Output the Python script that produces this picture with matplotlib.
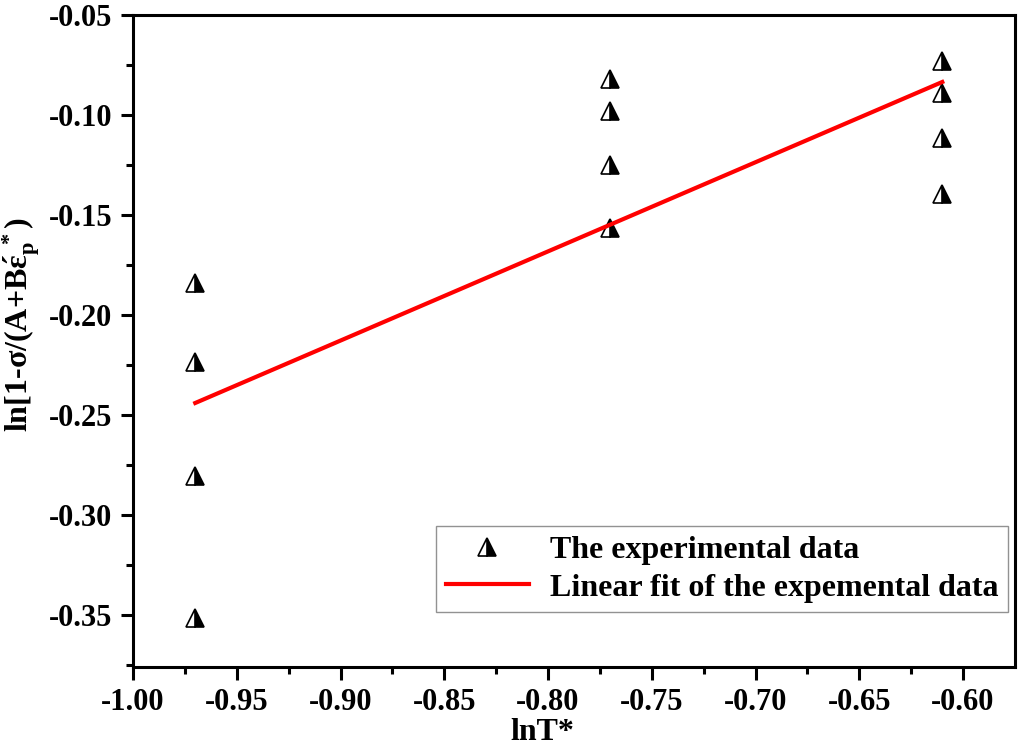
import numpy as np
import matplotlib
matplotlib.use('Agg')
import matplotlib.pyplot as plt

plt.rcParams['font.family'] = 'Liberation Serif'
plt.rcParams['font.weight'] = 'bold'
plt.rcParams['mathtext.fontset'] = 'custom'
plt.rcParams['mathtext.rm'] = 'Liberation Serif:bold'
plt.rcParams['mathtext.it'] = 'Liberation Serif:bold'
plt.rcParams['mathtext.bf'] = 'Liberation Serif:bold'

# experimental points (lnT*, ln[...])
lnT = [-0.97, -0.97, -0.97, -0.97,
       -0.77, -0.77, -0.77, -0.77,
       -0.61, -0.61, -0.61, -0.61]
lnS = [-0.184, -0.2235, -0.2805, -0.3515,
       -0.082, -0.098, -0.125, -0.1565,
       -0.073, -0.089, -0.1115, -0.1395]

# linear fit end points
fit_x = [-0.97, -0.61]
fit_y = [-0.244, -0.0835]

fig = plt.figure(figsize=(10.2, 7.49), dpi=100)
ax = fig.add_axes([0.1304, 0.1095, 0.995 - 0.1304, 0.98 - 0.1095])

ax.plot(lnT, lnS, linestyle='none', marker='^', markersize=13,
        fillstyle='right', markerfacecolor='black', markerfacecoloralt='white',
        markeredgecolor='black', markeredgewidth=1.2, label='The experimental data')
ax.plot(fit_x, fit_y, color='red', linewidth=3, label='Linear fit of the expemental data')

ax.set_xlim(-1.0, -0.575)
ax.set_ylim(-0.376, -0.05)
ax.set_xticks(np.arange(-1.0, -0.599, 0.05))
ax.set_xticks(np.arange(-0.975, -0.58, 0.05), minor=True)
ax.set_yticks(np.arange(-0.35, -0.049, 0.05))
ax.set_yticks(np.arange(-0.375, -0.05, 0.05), minor=True)
ax.xaxis.set_major_formatter(matplotlib.ticker.FormatStrFormatter('%.2f'))
ax.yaxis.set_major_formatter(matplotlib.ticker.FormatStrFormatter('%.2f'))

for s in ax.spines.values():
    s.set_linewidth(2.2)
ax.tick_params(which='major', direction='out', length=9, width=2.2, labelsize=22, pad=6)
ax.tick_params(which='minor', direction='out', length=5, width=2.2)

ax.set_xlabel('lnT*', fontsize=23, fontweight='bold')
ax.xaxis.set_label_coords(0.464, -0.078)
ax.set_ylabel(r'ln[1-σ/(A+B$\acute{\epsilon}_{p}^{\ *}$)', fontsize=23, fontweight='bold')
ax.yaxis.set_label_coords(-0.103, 0.525)

leg = ax.legend(loc='lower right', bbox_to_anchor=(0.992, 0.084), borderaxespad=0,
                fontsize=23, fancybox=False, frameon=True, handlelength=2.6,
                handletextpad=0.65, borderpad=0.3, labelspacing=0.25)
leg.get_frame().set_edgecolor('#777777')
leg.get_frame().set_linewidth(1.0)

plt.savefig('out.png', dpi=100)
plt.close()
